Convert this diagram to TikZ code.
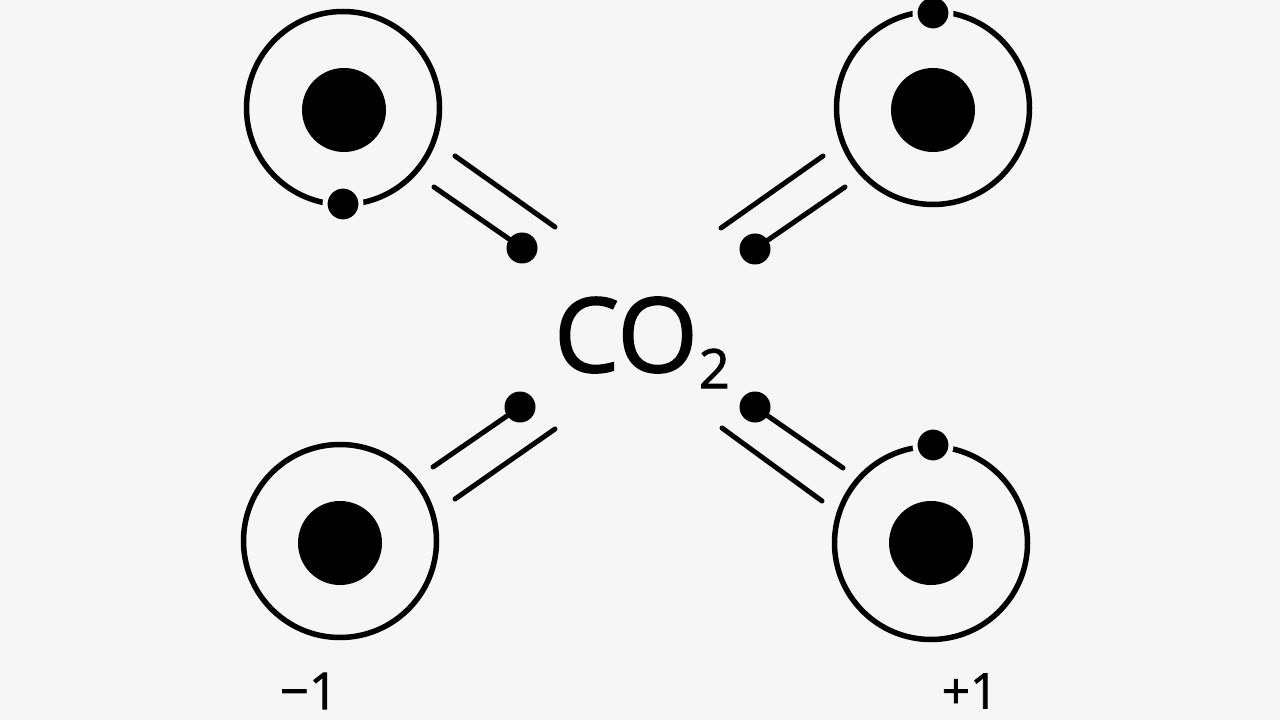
\documentclass[tikz,border=0pt]{standalone}
\usepackage{fontspec}
\setmainfont{Open Sans}
\newfontfamily\heavyfont[FakeBold=1.5]{Open Sans}
\usetikzlibrary{positioning}
\definecolor{bgcol}{HTML}{F6F6F6}
\tikzset{
    ring/.style={circle,draw=black,line width=1.1mm,minimum size=38.6mm,inner sep=0pt},
    nucleus/.style={circle,fill=black,minimum size=16.8mm,inner sep=0pt},
    orbitdot/.style={circle,draw=bgcol,line width=1mm,fill=black,minimum size=7.2mm,inner sep=0pt},
    bonddot/.style={circle,fill=black,minimum size=6.2mm,inner sep=0pt},
    bond/.style={line width=1mm,line cap=round},
}
\begin{document}
\begin{tikzpicture}[x=0.2mm,y=-0.2mm]
        \fill[bgcol] (0,0) rectangle (1280,720);
        \useasboundingbox (0,0) rectangle (1280,720);
        % top left
        \node(R1) [ring] at (343,108) {};
        \node(N1) [nucleus] at (344,110) {};
        \node(E1) [orbitdot] at (343,204) {};
        \node(D1) [bonddot] at (522,248) {};
        \coordinate(I1) at (434,187);
        \coordinate(P1) at (455,156);
        \coordinate(Q1) at (555,227);
        \draw[bond] (I1) -- (D1);
        \draw[bond] (P1) -- (Q1);
        % top right
        \node(R2) [ring] at (933,108) {};
        \node(N2) [nucleus] at (933,110) {};
        \node(E2) [orbitdot] at (933,13) {};
        \node(D2) [bonddot] at (755,249) {};
        \coordinate(I2) at (845,187);
        \coordinate(P2) at (823,156);
        \coordinate(Q2) at (721,228);
        \draw[bond] (I2) -- (D2);
        \draw[bond] (P2) -- (Q2);
        % bottom left
        \node(R3) [ring] at (340,541) {};
        \node(N3) [nucleus] at (340,543) {};
        \node(D3) [bonddot] at (520,407) {};
        \coordinate(I3) at (433,467);
        \coordinate(P3) at (455,499);
        \coordinate(Q3) at (555,429);
        \draw[bond] (I3) -- (D3);
        \draw[bond] (P3) -- (Q3);
        % bottom right
        \node(R4) [ring] at (931,543) {};
        \node(N4) [nucleus] at (931,543) {};
        \node(E4) [orbitdot] at (933,445) {};
        \node(D4) [bonddot] at (755,407) {};
        \coordinate(I4) at (843,468);
        \coordinate(P4) at (722,428);
        \coordinate(Q4) at (822,501);
        \draw[bond] (I4) -- (D4);
        \draw[bond] (P4) -- (Q4);
        % labels
        \node(CO) [inner sep=0pt] at (626,335) {\heavyfont\fontsize{59}{59}\selectfont CO};
        \node(TWO) [right=0pt of CO,inner sep=0pt,yshift=-6.7mm] {\heavyfont\fontsize{31}{31}\selectfont 2};
        \node(L1) [inner sep=0pt] at (309,691) {\heavyfont\fontsize{29}{29}\selectfont −1};
        \node(L2) [inner sep=0pt] at (970,691) {\heavyfont\fontsize{28}{28}\selectfont +1};
    \end{tikzpicture}
\end{document}
